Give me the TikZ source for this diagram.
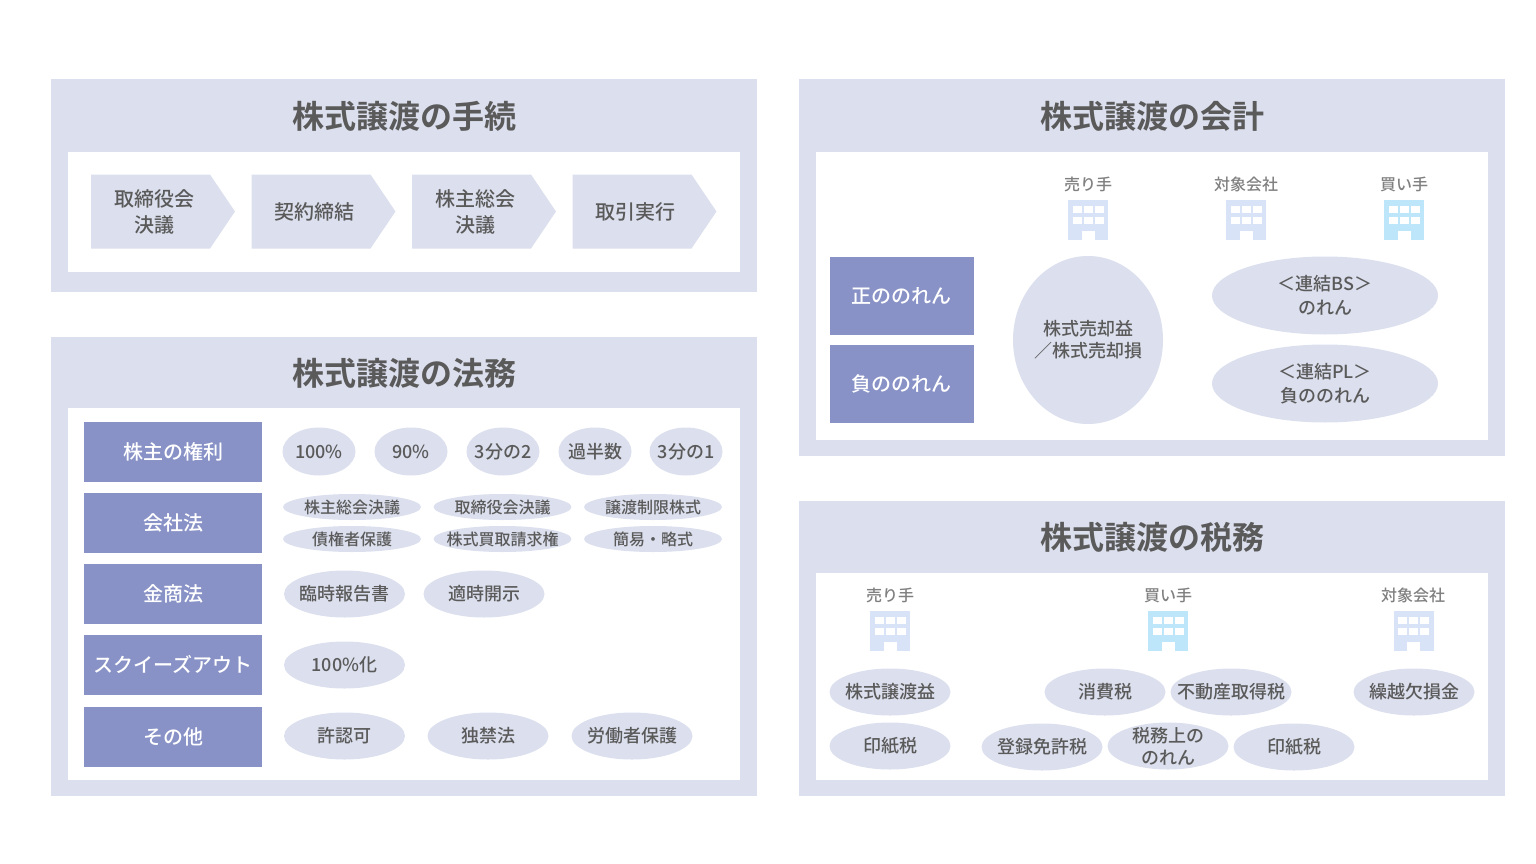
\documentclass[tikz,border=0pt]{standalone}
\usepackage{fontspec}
\setmainfont{Noto Sans CJK JP Medium}
\newfontfamily\titlefont{Noto Sans CJK JP Bold}
\usetikzlibrary{shapes,shapes.geometric,shapes.symbols,positioning}
\definecolor{panelblue}{HTML}{DCE0EE}
\definecolor{boxblue}{HTML}{8892C6}
\definecolor{textgray}{HTML}{5A5A5A}
\definecolor{labelgray}{HTML}{808080}
\definecolor{bldgblue}{HTML}{D9E3F7}
\definecolor{bldgsky}{HTML}{BDE6FA}
\newcommand{\stepkern}{\hspace*{7pt}}
\tikzset{
  paneltitle/.style={text=textgray, font=\titlefont\fontsize{32}{36}\selectfont},
  flowstep/.style={signal, signal to=east, signal pointer angle=112, fill=panelblue, text=textgray,
    inner sep=0pt, minimum height=74pt, minimum width=119pt, text width=119pt, align=center,
    font=\fontsize{20}{26}\selectfont},
  sidebox/.style={fill=boxblue, text=white, inner sep=0pt, minimum width=178pt, minimum height=60pt,
    font=\fontsize{20}{24}\selectfont},
  goodwillbox/.style={sidebox, minimum width=144pt, minimum height=78pt},
  chip/.style={ellipse, fill=panelblue, text=textgray, inner sep=-24pt, align=center,
    minimum width=121pt, minimum height=47pt, font=\fontsize{18}{22}\selectfont},
  roundchip/.style={chip, minimum width=73pt, minimum height=48pt},
  thinchip/.style={chip, minimum width=138pt, minimum height=26pt, font=\fontsize{16}{20}\selectfont},
  bigchip/.style={chip, minimum width=226pt, minimum height=78pt, font=\fontsize{18}{24}\selectfont},
  party/.style={text=labelgray, inner sep=0pt, font=\fontsize{16}{20}\selectfont},
  pics/building/.style={code={
    \fill[#1] (-20,0) rectangle (20,40);
    \foreach \wx in {-15.5,-4.5,6.5} {
      \foreach \wy in {6,17} {
        \fill[white] (\wx,\wy) rectangle ++(9,7);
      }
    }
    \fill[white] (-6.5,31) rectangle (6.5,40);
  }}
}
\begin{document}
\begin{tikzpicture}[x=1pt, y=-1pt]
  \useasboundingbox (0,0) rectangle (1536,864);

  % panels
  \fill[panelblue] (50.5,79.5) rectangle (757,292);
  \fill[white] (67.5,151.5) rectangle (740,272);
  \fill[panelblue] (50.5,336.5) rectangle (757,796);
  \fill[white] (67.5,407.5) rectangle (740,780);
  \fill[panelblue] (798.5,79.5) rectangle (1505,456);
  \fill[white] (815.5,151.5) rectangle (1488,440);
  \fill[panelblue] (798.5,500.5) rectangle (1505,796);
  \fill[white] (815.5,572.5) rectangle (1488,780);

  \node [paneltitle] (proc) at (404,116.5) {株式譲渡の手続};
  \node [paneltitle] (law)  at (404,373.5) {株式譲渡の法務};
  \node [paneltitle] (acct) at (1152,116.5) {株式譲渡の会計};
  \node [paneltitle] (tax)  at (1152,537.5) {株式譲渡の税務};

  % procedure
  \node [flowstep] (s1) at (150.5,211.5) {\stepkern 取締役会\\\stepkern 決議};
  \node [flowstep] (s2) at (311,211.5) {\stepkern 契約締結};
  \node [flowstep] (s3) at (471.5,211.5) {\stepkern 株主総会\\\stepkern 決議};
  \node [flowstep] (s4) at (632,211.5) {\stepkern 取引実行};

  % legal
  \node [sidebox] (holder) at (173,451.5) {株主の権利};
  \node [sidebox] (corp)   at (173,522.5) {会社法};
  \node [sidebox] (fiea)   at (173,593.5) {金商法};
  \node [sidebox] (sqz)    at (173,664.5) {スクイーズアウト};
  \node [sidebox] (other)  at (173,736.5) {その他};

  \node [roundchip] (r1) at (319,451.5) {100\%};
  \node [roundchip] (r2) at (411,451.5) {90\%};
  \node [roundchip] (r3) at (503,451.5) {3分の2};
  \node [roundchip] (r4) at (595,451.5) {過半数};
  \node [roundchip] (r5) at (686,451.5) {3分の1};

  \node [thinchip] (c1) at (352,507) {株主総会決議};
  \node [thinchip] (c2) at (502.5,507) {取締役会決議};
  \node [thinchip] (c3) at (653,507) {譲渡制限株式};
  \node [thinchip] (c4) at (352,539) {債権者保護};
  \node [thinchip] (c5) at (502.5,539) {株式買取請求権};
  \node [thinchip] (c6) at (653,539) {簡易・略式};

  \node [chip] (f1) at (344.5,594) {臨時報告書};
  \node [chip] (f2) at (484,594) {適時開示};
  \node [chip] (q1) at (344.5,665) {100\%化};
  \node [chip] (o1) at (344.5,736) {許認可};
  \node [chip] (o2) at (488,736) {独禁法};
  \node [chip] (o3) at (632,736) {労働者保護};

  % accounting
  \node [party] (seller1) at (1088,184) {売り手};
  \node [party] (target1) at (1246,184) {対象会社};
  \node [party] (buyer1)  at (1404,184) {買い手};
  \pic at (1088,200) {building=bldgblue};
  \pic at (1246,200) {building=bldgblue};
  \pic at (1404,200) {building=bldgsky};

  \node [goodwillbox] (pos) at (901.5,295.5) {正ののれん};
  \node [goodwillbox] (neg) at (901.5,383.5) {負ののれん};
  \node [chip, minimum width=150pt, minimum height=168pt] (gain) at (1088,340) {株式売却益\\／株式売却損};
  \node [bigchip] (bs) at (1325,295.5) {＜連結BS＞\\のれん};
  \node [bigchip] (pl) at (1325,383.5) {＜連結PL＞\\負ののれん};

  % tax
  \node [party] (seller2) at (890,595) {売り手};
  \node [party] (buyer2)  at (1168,595) {買い手};
  \node [party] (target2) at (1413,595) {対象会社};
  \pic at (890,611) {building=bldgblue};
  \pic at (1168,611) {building=bldgsky};
  \pic at (1413.5,611) {building=bldgblue};

  \node [chip] (t1) at (890,692) {株式譲渡益};
  \node [chip] (t2) at (890,746) {印紙税};
  \node [chip] (t3) at (1105,692) {消費税};
  \node [chip] (t4) at (1231,692) {不動産取得税};
  \node [chip] (t5) at (1042,747) {登録免許税};
  \node [chip] (t6) at (1168,746) {税務上の\\のれん};
  \node [chip] (t7) at (1294,747) {印紙税};
  \node [chip] (t8) at (1414,692) {繰越欠損金};
\end{tikzpicture}
\end{document}
